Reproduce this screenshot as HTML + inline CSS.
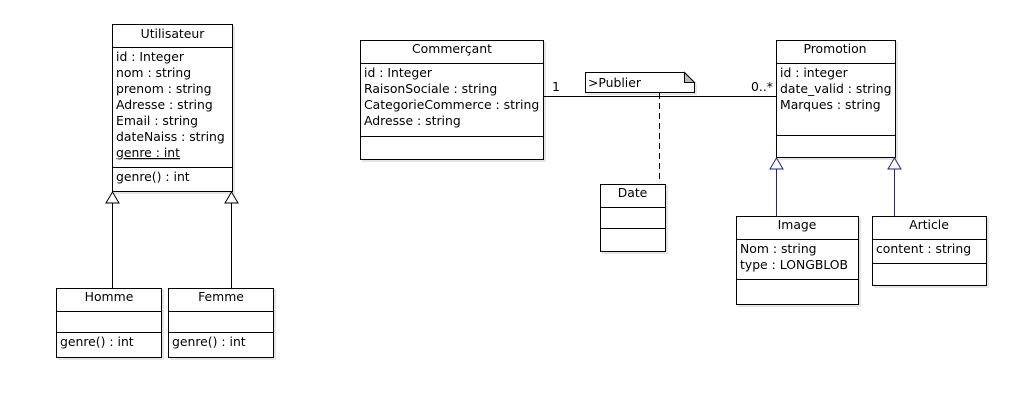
<!DOCTYPE html>
<html><head><meta charset="utf-8"><style>
html,body{margin:0;padding:0;background:#fff;}
svg text{font-family:"DejaVu Sans","Liberation Sans",sans-serif;font-size:12.4px;fill:#000;}
</style></head><body>
<svg width="1023" height="407" viewBox="0 0 1023 407" xmlns="http://www.w3.org/2000/svg">
<defs>
<filter id="sh" x="-5%" y="-5%" width="115%" height="115%"><feOffset dx="2" dy="2" in="SourceAlpha"/><feColorMatrix values="0 0 0 0 0.6 0 0 0 0 0.6 0 0 0 0 0.6 0 0 0 0.5 0"/><feMerge><feMergeNode/><feMergeNode in="SourceGraphic"/></feMerge></filter>
</defs>
<g fill="#fff" stroke="#000" stroke-width="1" filter="url(#sh)">
<rect x="112.5" y="24.5" width="120" height="167"/>
<rect x="56.5" y="288.5" width="105" height="69"/>
<rect x="168.5" y="288.5" width="105" height="69"/>
<rect x="360.5" y="40.5" width="183" height="119"/>
<rect x="776.5" y="40.5" width="119" height="117"/>
<rect x="600.5" y="184.5" width="65" height="67"/>
<rect x="736.5" y="216.5" width="122" height="88"/>
<rect x="872.5" y="216.5" width="114" height="69"/>
<path d="M585.5 72.5 H684.5 L694.5 82.5 V92.5 H585.5 Z"/>
</g>
<g stroke="#000" stroke-width="1" fill="none">
<path d="M112 47.5H233M112 167.5H233"/>
<path d="M56 311.5H162M56 332.5H162M168 311.5H274M168 332.5H274"/>
<path d="M360 63.5H544M360 136.5H544"/>
<path d="M776 63.5H896M776 135.5H896"/>
<path d="M600 207.5H666M600 228.5H666"/>
<path d="M736 239.5H859M736 279.5H859"/>
<path d="M872 239.5H987M872 263.5H987"/>
<path d="M544 96.5H776"/>
<path d="M659.5 93V182" stroke-dasharray="6,4"/>
<path d="M112.5 203V288M231.5 203V288"/>
<path d="M112.5 192L106 203H119Z M231.5 192L225 203H238Z" fill="#fff"/>
</g>
<path d="M684.5 72.5V82.5H694.5Z" fill="#bbb" stroke="#000"/>
<g stroke="#22228a" stroke-width="1" fill="#fff">
<path d="M776.5 169V216M894.5 169V216" fill="none"/>
<path d="M776.5 158L770 169H783Z M894.5 158L888 169H901Z"/>
</g>
<text x="172.5" y="38" text-anchor="middle">Utilisateur</text>
<text x="116" y="61">id : Integer</text>
<text x="116" y="77">nom : string</text>
<text x="116" y="93">prenom : string</text>
<text x="116" y="109">Adresse : string</text>
<text x="116" y="125">Email : string</text>
<text x="116" y="141">dateNaiss : string</text>
<text x="116" y="157" text-decoration="underline">genre : int</text>
<text x="116" y="181">genre() : int</text>
<text x="109" y="301" text-anchor="middle">Homme</text>
<text x="60" y="346">genre() : int</text>
<text x="221" y="301" text-anchor="middle">Femme</text>
<text x="172" y="346">genre() : int</text>
<text x="452" y="53" text-anchor="middle">Commerçant</text>
<text x="364" y="77">id : Integer</text>
<text x="364" y="93">RaisonSociale : string</text>
<text x="364" y="109">CategorieCommerce : string</text>
<text x="364" y="125">Adresse : string</text>
<text x="835" y="53" text-anchor="middle">Promotion</text>
<text x="780" y="77">id : integer</text>
<text x="780" y="93">date_valid : string</text>
<text x="780" y="109">Marques : string</text>
<text x="552" y="91">1</text>
<text x="751" y="91">0..*</text>
<text x="588" y="87">&gt;Publier</text>
<text x="632.5" y="197" text-anchor="middle">Date</text>
<text x="797" y="229" text-anchor="middle">Image</text>
<text x="740" y="253">Nom : string</text>
<text x="740" y="269">type : LONGBLOB</text>
<text x="929" y="229" text-anchor="middle">Article</text>
<text x="876" y="253">content : string</text>
</svg>
</body></html>
